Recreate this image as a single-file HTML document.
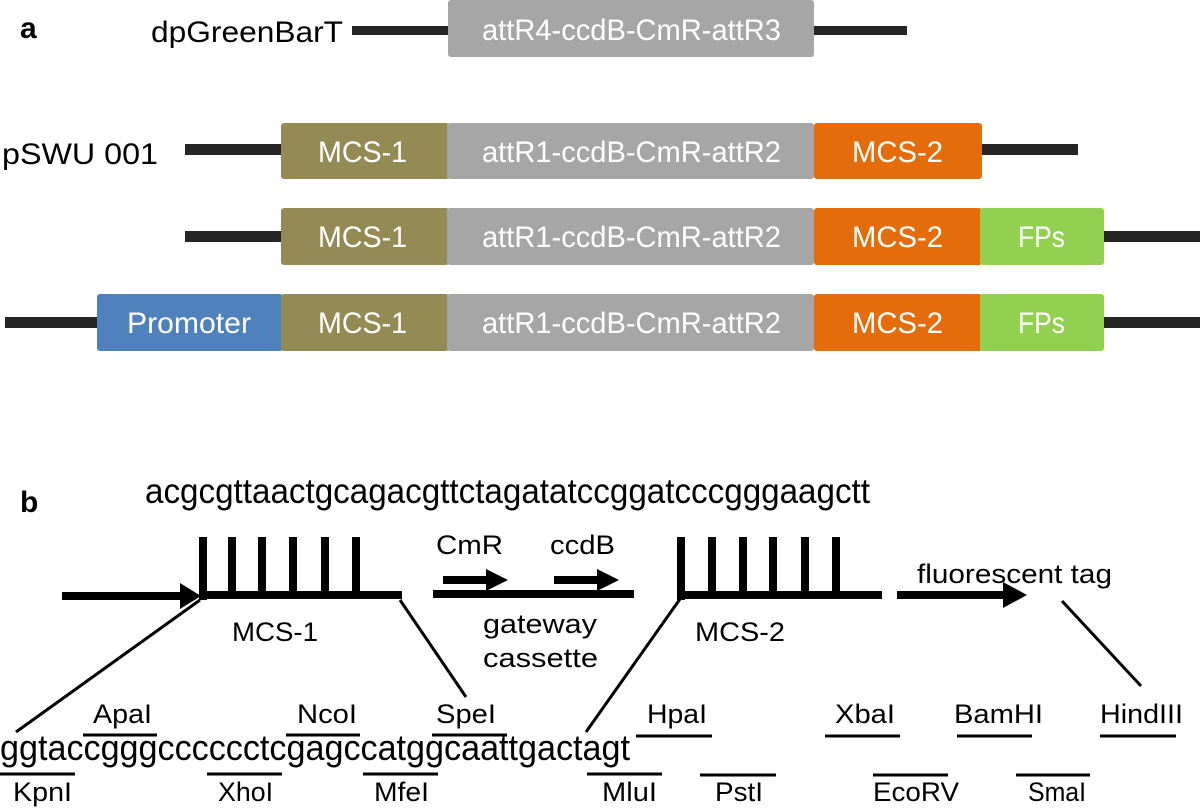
<!DOCTYPE html>
<html><head><meta charset="utf-8"><style>
html,body{margin:0;padding:0;background:#fff;}
svg{display:block;font-family:"Liberation Sans",Arial,sans-serif;}
</style></head><body>
<svg width="1200" height="811" viewBox="0 0 1200 811" xmlns="http://www.w3.org/2000/svg">
<g font-size="30">
<text x="20" y="38" font-size="30" font-weight="bold">a</text>
<text x="151" y="42" textLength="192" lengthAdjust="spacingAndGlyphs">dpGreenBarT</text>
<rect x="352" y="26" width="555" height="9" fill="#262626"/>
<rect x="448" y="0" width="366" height="57" rx="3" fill="#a6a6a6"/>
<text x="482" y="40" textLength="299" lengthAdjust="spacingAndGlyphs" fill="#fff">attR4-ccdB-CmR-attR3</text>

<text x="2" y="164" textLength="156" lengthAdjust="spacingAndGlyphs">pSWU 001</text>
<rect x="185" y="144" width="893" height="11" fill="#262626"/>
<rect x="281" y="123" width="168" height="56" rx="3" fill="#948a54"/>
<rect x="447" y="123" width="367" height="56" rx="3" fill="#a6a6a6"/>
<rect x="814" y="123" width="168" height="56" rx="3" fill="#e46c0a"/>
<text x="318" y="162" textLength="89" lengthAdjust="spacingAndGlyphs" fill="#fff">MCS-1</text>
<text x="482" y="162" textLength="299" lengthAdjust="spacingAndGlyphs" fill="#fff">attR1-ccdB-CmR-attR2</text>
<text x="852" y="162" textLength="91" lengthAdjust="spacingAndGlyphs" fill="#fff">MCS-2</text>

<rect x="185" y="231" width="1015" height="11" fill="#262626"/>
<rect x="281" y="208" width="168" height="57" rx="3" fill="#948a54"/>
<rect x="447" y="208" width="367" height="57" rx="3" fill="#a6a6a6"/>
<rect x="814" y="208" width="168" height="57" rx="3" fill="#e46c0a"/>
<rect x="980" y="208" width="124" height="57" rx="3" fill="#92d050"/>
<text x="318" y="247" textLength="89" lengthAdjust="spacingAndGlyphs" fill="#fff">MCS-1</text>
<text x="482" y="247" textLength="299" lengthAdjust="spacingAndGlyphs" fill="#fff">attR1-ccdB-CmR-attR2</text>
<text x="852" y="247" textLength="91" lengthAdjust="spacingAndGlyphs" fill="#fff">MCS-2</text>
<text x="1018" y="247" textLength="47" lengthAdjust="spacingAndGlyphs" fill="#fff">FPs</text>

<rect x="5" y="317" width="1195" height="11" fill="#262626"/>
<rect x="97" y="294" width="186" height="57" rx="3" fill="#4f81bd"/>
<rect x="281" y="294" width="168" height="57" rx="3" fill="#948a54"/>
<rect x="447" y="294" width="367" height="57" rx="3" fill="#a6a6a6"/>
<rect x="814" y="294" width="168" height="57" rx="3" fill="#e46c0a"/>
<rect x="980" y="294" width="124" height="57" rx="3" fill="#92d050"/>
<text x="127" y="333" textLength="124" lengthAdjust="spacingAndGlyphs" fill="#fff">Promoter</text>
<text x="318" y="333" textLength="89" lengthAdjust="spacingAndGlyphs" fill="#fff">MCS-1</text>
<text x="482" y="333" textLength="299" lengthAdjust="spacingAndGlyphs" fill="#fff">attR1-ccdB-CmR-attR2</text>
<text x="852" y="333" textLength="91" lengthAdjust="spacingAndGlyphs" fill="#fff">MCS-2</text>
<text x="1018" y="333" textLength="47" lengthAdjust="spacingAndGlyphs" fill="#fff">FPs</text>

<text x="20" y="512" font-size="30" font-weight="bold">b</text>
<text x="145" y="503" font-size="35" textLength="725" lengthAdjust="spacingAndGlyphs">acgcgttaactgcagacgttctagatatccggatcccgggaagctt</text>

<g stroke="#000" stroke-width="8" fill="none">
<line x1="62" y1="596" x2="182" y2="596"/>
<line x1="199" y1="595" x2="402" y2="595"/>
<line x1="203" y1="537" x2="203" y2="600"/>
<line x1="232" y1="537" x2="232" y2="595"/>
<line x1="262" y1="537" x2="262" y2="595"/>
<line x1="293" y1="537" x2="293" y2="595"/>
<line x1="325" y1="537" x2="325" y2="595"/>
<line x1="356" y1="537" x2="356" y2="595"/>
<line x1="433" y1="594" x2="634" y2="594"/>
<line x1="443" y1="580" x2="490" y2="580"/>
<line x1="554" y1="580" x2="600" y2="580"/>
<line x1="678" y1="595" x2="882" y2="595"/>
<line x1="681" y1="537" x2="681" y2="600"/>
<line x1="712" y1="537" x2="712" y2="595"/>
<line x1="743" y1="537" x2="743" y2="595"/>
<line x1="773" y1="537" x2="773" y2="595"/>
<line x1="805" y1="537" x2="805" y2="595"/>
<line x1="836" y1="537" x2="836" y2="595"/>
<line x1="897" y1="595" x2="1005" y2="595"/>
</g>
<g fill="#000">
<polygon points="180,583 201,596 180,609"/>
<polygon points="486,569 508,580 486,591"/>
<polygon points="597,569 619,580 597,591"/>
<polygon points="1003,582 1027,595 1003,608"/>
</g>
<g stroke="#000" stroke-width="3">
<line x1="200" y1="600" x2="16" y2="732"/>
<line x1="400" y1="600" x2="466" y2="697"/>
<line x1="680" y1="599" x2="586" y2="732"/>
<line x1="1062" y1="601" x2="1141" y2="686"/>
</g>
<g font-size="27">
<text x="232" y="641" textLength="86" lengthAdjust="spacingAndGlyphs">MCS-1</text>
<text x="695" y="641" textLength="90" lengthAdjust="spacingAndGlyphs">MCS-2</text>
<text x="436" y="554" textLength="67" lengthAdjust="spacingAndGlyphs">CmR</text>
<text x="550" y="554" textLength="65" lengthAdjust="spacingAndGlyphs">ccdB</text>
<text x="483" y="633" textLength="114" lengthAdjust="spacingAndGlyphs">gateway</text>
<text x="483" y="667" textLength="115" lengthAdjust="spacingAndGlyphs">cassette</text>
<text x="917" y="583" textLength="195" lengthAdjust="spacingAndGlyphs">fluorescent tag</text>
</g>

<text x="0" y="760" font-size="36" textLength="630" lengthAdjust="spacingAndGlyphs">ggtaccgggcccccctcgagccatggcaattgactagt</text>
<g stroke="#000" stroke-width="3">
<line x1="83" y1="735" x2="157" y2="735"/>
<line x1="286" y1="735" x2="360" y2="735"/>
<line x1="432" y1="735" x2="507" y2="735"/>
<line x1="636" y1="736" x2="712" y2="736"/>
<line x1="825" y1="736" x2="900" y2="736"/>
<line x1="957" y1="736" x2="1032" y2="736"/>
<line x1="1100" y1="736" x2="1176" y2="736"/>
<line x1="0" y1="774" x2="75" y2="774"/>
<line x1="207" y1="774" x2="282" y2="774"/>
<line x1="363" y1="774" x2="438" y2="774"/>
<line x1="587" y1="774" x2="662" y2="774"/>
<line x1="700" y1="775" x2="776" y2="775"/>
<line x1="873" y1="775" x2="948" y2="775"/>
<line x1="1016" y1="775" x2="1090" y2="775"/>
</g>
<g font-size="27">
<text x="93" y="723" textLength="59" lengthAdjust="spacingAndGlyphs">ApaI</text>
<text x="297" y="723" textLength="60" lengthAdjust="spacingAndGlyphs">NcoI</text>
<text x="436" y="723" textLength="60" lengthAdjust="spacingAndGlyphs">SpeI</text>
<text x="647" y="723" textLength="60" lengthAdjust="spacingAndGlyphs">HpaI</text>
<text x="835" y="723" textLength="60" lengthAdjust="spacingAndGlyphs">XbaI</text>
<text x="954" y="723" textLength="89" lengthAdjust="spacingAndGlyphs">BamHI</text>
<text x="1100" y="723" textLength="83" lengthAdjust="spacingAndGlyphs">HindIII</text>
<text x="13" y="801" textLength="59" lengthAdjust="spacingAndGlyphs">KpnI</text>
<text x="218" y="801" textLength="55" lengthAdjust="spacingAndGlyphs">XhoI</text>
<text x="374" y="801" textLength="55" lengthAdjust="spacingAndGlyphs">MfeI</text>
<text x="602" y="801" textLength="55" lengthAdjust="spacingAndGlyphs">MluI</text>
<text x="715" y="801" textLength="48" lengthAdjust="spacingAndGlyphs">PstI</text>
<text x="873" y="801" textLength="86" lengthAdjust="spacingAndGlyphs">EcoRV</text>
<text x="1028" y="801" textLength="58" lengthAdjust="spacingAndGlyphs">SmaI</text>
</g>
</g>
</svg>
</body></html>
